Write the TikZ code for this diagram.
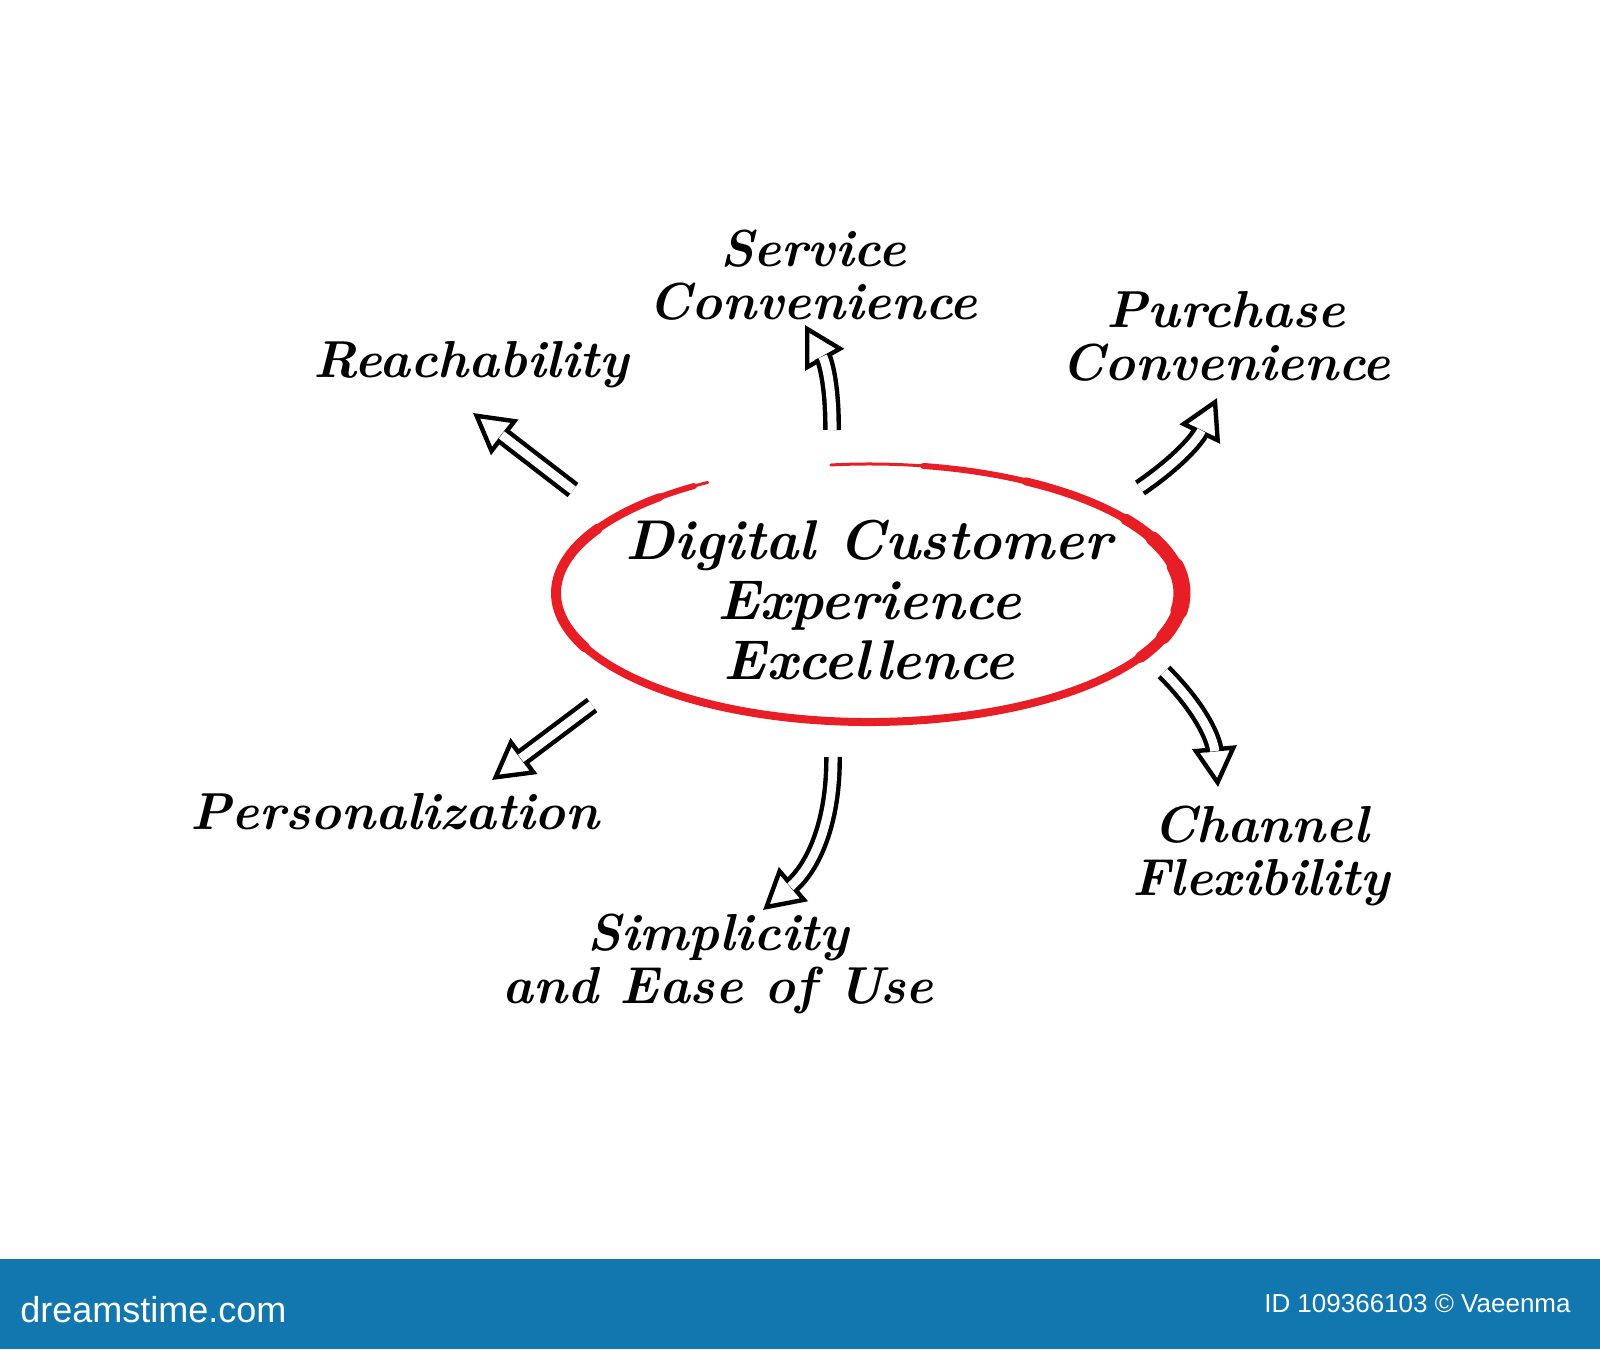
\documentclass[tikz,border=0pt]{standalone}
\usepackage{fontspec}
\usetikzlibrary{arrows.meta}
\newfontfamily\barfont{Liberation Sans}
\definecolor{penred}{RGB}{232,30,38}
\definecolor{barblue}{RGB}{17,119,174}

\tikzset{
  lbl/.style={font=\fontsize{26}{26.5}\selectfont\bfseries\itshape, align=center, inner sep=0pt, anchor=base},
  headtip/.style={white, line width=0.1pt, -{Triangle[open, length=20pt, width=22pt, line width=2.2pt, color=black, fill=white]}},
  shaft/.style={draw=black, double=white, line width=2.2pt, double distance=4.5pt, shorten >=18pt},
}

\begin{document}
\begin{tikzpicture}[x=0.5pt, y=0.5pt]
\useasboundingbox (0,0) rectangle (1600,-1349);

% labels (base = last line)

\node[lbl] (svc) at (813,-319) {Service\\Convenience};
\node[lbl] (pur) at (1226,-380) {Purchase\\Convenience};
\node[lbl] (rch) at (471,-377) {Reachability};
\node[lbl, font=\fontsize{28}{30}\selectfont\bfseries\itshape] (dce) at (869,-679) {Digital Customer\\Experience\\Excellence};
\node[lbl] (per) at (395,-829) {Personalization};
\node[lbl] (sim) at (718,-1003) {Simplicity\\and Ease of Use};
\node[lbl] (chn) at (1261,-895) {Channel\\Flexibility};

% red ring

\coordinate (ec) at (869,-593);
\foreach \lw/\from/\to in {1.5/97/-239, 3/80/-236, 4/60/-228, 5.5/35/-30, 5/-155/-210, 7/25/-20, 8.5/12/-8}
  \draw[penred, line width=\lw pt, line cap=round] (ec) ++(\from:156.5pt and 64.5pt)
    arc[start angle=\from, end angle=\to, x radius=156.5pt, y radius=64.5pt];

% arrows

\coordinate (r0) at (573,-490);  \coordinate (r1) at (473,-413);
\coordinate (s0) at (832,-430);  \coordinate (s1) at (805,-325);
\coordinate (p0) at (1140,-488); \coordinate (p1) at (1217,-398);
\coordinate (q0) at (592,-705);  \coordinate (q1) at (492,-780);
\coordinate (u0) at (833,-757);  \coordinate (u1) at (763,-910);
\coordinate (c0) at (1164,-672); \coordinate (c1) at (1218,-787);

\foreach \s/\e/\b in {r0/r1/0, s0/s1/-15, p0/p1/-15, q0/q1/0, u0/u1/25, c0/c1/20} {
  \draw[headtip] (\s) to[bend left=\b] (\e);
  \draw[shaft] (\s) to[bend left=\b] (\e);
}

% bottom bar

\fill[barblue] (0,-1259) rectangle (1600,-1349);
\node[anchor=base west, inner sep=0pt, white, font=\barfont\fontsize{18}{18}\selectfont] (site) at (20,-1322) {dreamstime.com};
\node[anchor=base east, inner sep=0pt, white, font=\barfont\fontsize{13}{13}\selectfont] (imgid) at (1571,-1312) {ID 109366103 © Vaeenma};

\end{tikzpicture}
\end{document}
